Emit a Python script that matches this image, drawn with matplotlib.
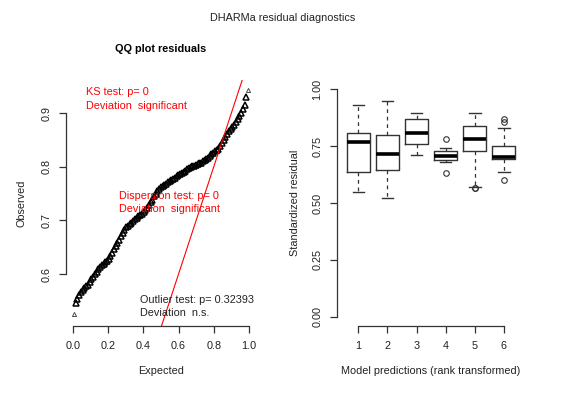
import numpy as np
import matplotlib
matplotlib.use("Agg")
import matplotlib.pyplot as plt

plt.rcParams['font.family'] = ['Liberation Sans', 'DejaVu Sans']
plt.rcParams['font.size'] = 7.8

# ---- QQ plot data: sorted scaled residuals (observed)
observed = [
    0.525, 0.546, 0.553, 0.561, 0.566, 0.570, 0.573, 0.577, 0.580, 0.585,
    0.590, 0.595, 0.600, 0.604, 0.609, 0.613, 0.616, 0.619, 0.622, 0.625,
    0.628, 0.633, 0.640, 0.647, 0.653, 0.658, 0.664, 0.670, 0.676, 0.682,
    0.687, 0.690, 0.693, 0.696, 0.699, 0.702, 0.705, 0.708, 0.710, 0.712,
    0.715, 0.719, 0.724, 0.729, 0.734, 0.739, 0.745, 0.750, 0.755, 0.759,
    0.762, 0.764, 0.766, 0.768, 0.771, 0.774, 0.776, 0.778, 0.780, 0.782,
    0.784, 0.786, 0.788, 0.790, 0.793, 0.795, 0.797, 0.799, 0.801, 0.802,
    0.804, 0.805, 0.807, 0.808, 0.810, 0.812, 0.814, 0.817, 0.820, 0.823,
    0.826, 0.829, 0.831, 0.834, 0.839, 0.844, 0.850, 0.856, 0.861, 0.866,
    0.870, 0.874, 0.878, 0.883, 0.889, 0.895, 0.901, 0.907, 0.916, 0.930,
    0.944,
]
qq_xticks = [0.0, 0.2, 0.4, 0.6, 0.8, 1.0]
qq_yticks = [0.6, 0.7, 0.8, 0.9]

# ---- Boxplot data (per rank-transformed prediction group)
groups = [1, 2, 3, 4, 5, 6]
whisk_lo = [0.548, 0.523, 0.709, 0.678, 0.570, 0.634]
q1 = [0.634, 0.644, 0.760, 0.690, 0.728, 0.691]
medians = [0.767, 0.714, 0.807, 0.707, 0.783, 0.700]
q3 = [0.808, 0.798, 0.867, 0.728, 0.836, 0.751]
whisk_hi = [0.930, 0.949, 0.897, 0.742, 0.897, 0.829]
fliers = [[], [], [], [0.783, 0.633], [0.564, 0.566], [0.868, 0.855, 0.600]]
box_yticks = [0.0, 0.25, 0.5, 0.75, 1.0]

TXT = '#222222'
AX = '#333333'

fig = plt.figure(figsize=(5.67, 3.93), dpi=100)
fig.text(0.499, 0.955, 'DHARMa residual diagnostics', ha='center', va='center',
         color=TXT)

def style(ax):
    for s in ['top', 'right']:
        ax.spines[s].set_visible(False)
    for s in ['left', 'bottom']:
        ax.spines[s].set_color(AX)
        ax.spines[s].set_linewidth(0.9)
    ax.tick_params(colors=AX, labelcolor=TXT, length=5, width=0.9, pad=5.5)
    for lab in ax.get_yticklabels():
        lab.set_rotation(90)
        lab.set_va('center')

# ---- Left: QQ plot
ax1 = fig.add_axes([0.1164, 0.1705, 0.335, 0.626])
n = len(observed)
expected = (np.arange(n) + 0.5) / n
ax1.plot(expected[1:-1], observed[1:-1], linestyle='none', marker='^',
         markersize=3.8, markerfacecolor='none', markeredgecolor='black',
         markeredgewidth=1.1)
ax1.plot([expected[0], expected[-1]], [observed[0], observed[-1]], linestyle='none',
         marker='^', markersize=3.0, markerfacecolor='none',
         markeredgecolor='#333333', markeredgewidth=0.6)
ax1.axline((0, 0), (1, 1), color='red', lw=0.8)
ax1.set_xlim(-0.04, 1.04)
ax1.set_ylim(0.503, 0.962)
ax1.set_xticks(qq_xticks)
ax1.set_xticklabels([f'{v:.1f}' for v in qq_xticks])
ax1.set_yticks(qq_yticks)
ax1.set_yticklabels([f'{v:.1f}' for v in qq_yticks])
style(ax1)
ax1.spines['bottom'].set_bounds(0, 1)
ax1.spines['left'].set_bounds(0.6, 0.9)
ax1.set_xlabel('Expected', color=TXT, labelpad=11)
ax1.set_ylabel('Observed', color=TXT, labelpad=11)
ax1.set_title('QQ plot residuals', fontweight='bold', color='black', pad=20,
              fontsize=7.8)

ax1.text(0.074, 0.939, 'KS test: p= 0', color='red', va='center', ha='left')
ax1.text(0.074, 0.913, 'Deviation  significant', color='red', va='center', ha='left')
ax1.text(0.261, 0.746, 'Dispersion test: p= 0', color='red', va='center', ha='left')
ax1.text(0.261, 0.722, 'Deviation  significant', color='red', va='center', ha='left')
ax1.text(0.381, 0.552, 'Outlier test: p= 0.32393', color=TXT, va='center', ha='left')
ax1.text(0.381, 0.528, 'Deviation  n.s.', color=TXT, va='center', ha='left')

# ---- Right: boxplot
ax2 = fig.add_axes([0.594, 0.1705, 0.3325, 0.626])
stats = []
for i in range(len(groups)):
    stats.append(dict(med=medians[i], q1=q1[i], q3=q3[i], whislo=whisk_lo[i],
                      whishi=whisk_hi[i], fliers=fliers[i]))
ax2.bxp(stats, positions=groups, widths=0.8, showfliers=True,
        boxprops=dict(color='#333333', lw=1.0),
        whiskerprops=dict(color='#333333', lw=0.9, linestyle=(0, (3, 3))),
        capprops=dict(color='#333333', lw=1.0),
        medianprops=dict(color='black', lw=2.6),
        flierprops=dict(marker='o', markersize=4, markerfacecolor='none',
                        markeredgecolor='#333333', markeredgewidth=0.8),
        capwidths=0.4)
ax2.set_xlim(0.26, 6.74)
ax2.set_ylim(-0.04, 1.04)
ax2.set_xticks(groups)
ax2.set_xticklabels([str(g) for g in groups])
ax2.set_yticks(box_yticks)
ax2.set_yticklabels([f'{v:.2f}' for v in box_yticks])
style(ax2)
ax2.spines['bottom'].set_bounds(1, 6)
ax2.spines['left'].set_bounds(0, 1)
ax2.set_xlabel('Model predictions (rank transformed)', color=TXT, labelpad=11)
ax2.set_ylabel('Standardized residual', color=TXT, labelpad=9)

fig.savefig('out.png', dpi=100)
